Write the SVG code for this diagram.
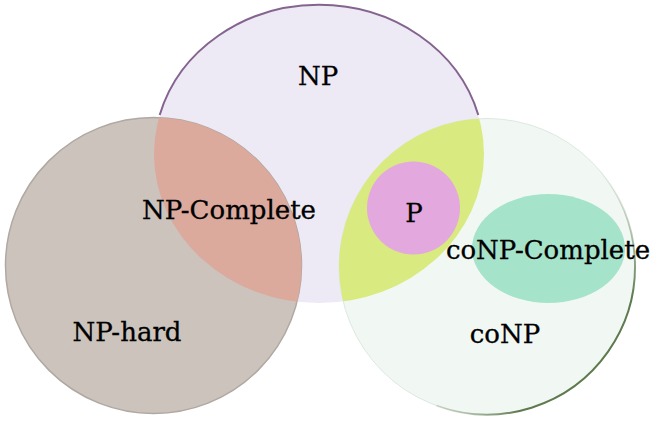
<svg xmlns="http://www.w3.org/2000/svg" width="657" height="422" viewBox="0 0 657 422">
<style>
text{font-family:"DejaVu Serif","Liberation Serif",serif;font-size:26px;fill:#000;stroke:#000;stroke-width:0.3;text-anchor:middle}
</style>
<defs>
<clipPath id="npClip"><ellipse cx="319" cy="154" rx="165" ry="149"/></clipPath>
<linearGradient id="gStroke" x1="600" y1="170" x2="436" y2="406" gradientUnits="userSpaceOnUse">
<stop offset="0" stop-color="#5E7A4E" stop-opacity="0"/>
<stop offset="0.3" stop-color="#5E7A4E" stop-opacity="1"/>
<stop offset="0.85" stop-color="#5E7A4E" stop-opacity="1"/>
<stop offset="1" stop-color="#5E7A4E" stop-opacity="0.2"/>
</linearGradient>
</defs>
<rect width="657" height="422" fill="#ffffff"/>
<g id="np">
<ellipse cx="319" cy="154" rx="165" ry="149" fill="#EEEAF5"/>
<path d="M159.7,115 A165,149 0 0,1 478.3,115" fill="none" stroke="#84648F" stroke-width="2"/>
</g>
<g id="np-hard">
<circle cx="153.5" cy="265.5" r="148" fill="#CBC3BC" stroke="#B0A8A2" stroke-width="1.5"/>
</g>
<g id="conp">
<circle cx="487" cy="266.5" r="148" fill="#F1F8F3" stroke="#DDE8DF" stroke-width="1"/>
<path d="M600.4,171.4 A148,148 0 0,1 436.4,405.6" fill="none" stroke="url(#gStroke)" stroke-width="2"/>
</g>
<g id="np-complete">
<circle cx="153.5" cy="265.5" r="148" fill="#DCA99D" clip-path="url(#npClip)"/>
</g>
<g id="np-cap-conp">
<circle cx="487" cy="266.5" r="148" fill="#D9EA80" clip-path="url(#npClip)"/>
</g>
<g id="p">
<circle cx="413.5" cy="208" r="46.5" fill="#E3A8DE"/>
</g>
<g id="conp-complete">
<ellipse cx="548.5" cy="248.5" rx="76.5" ry="54.5" fill="#A6E3CB"/>
</g>
<g id="connectors"></g>
<g id="labels">
<text x="318" y="85">NP</text>
<text x="229" y="219">NP-Complete</text>
<text x="127" y="341">NP-hard</text>
<text x="414" y="222">P</text>
<text x="548" y="259">coNP-Complete</text>
<text x="505" y="343">coNP</text>
</g>
</svg>
